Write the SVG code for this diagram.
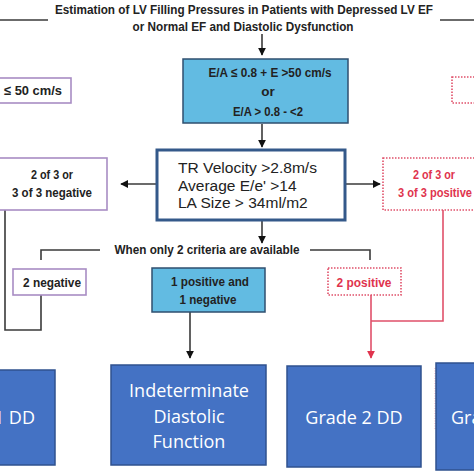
<svg xmlns="http://www.w3.org/2000/svg" width="474" height="474" viewBox="0 0 474 474">
<defs>
<style>
.t{font-family:"Liberation Sans",Arial,sans-serif;font-weight:bold;font-size:13.5px;fill:#222;text-anchor:middle}
.r{fill:#e0344e}
.tr{font-family:"Liberation Sans",Arial,sans-serif;font-size:15.5px;fill:#222}
.big{font-family:"Open Sans","Noto Sans",sans-serif;font-size:18px;fill:#fff;text-anchor:middle}
.ln{stroke:#3a3a3a;stroke-width:1.6;fill:none}
.rl{stroke:#e0506a;stroke-width:1.6;fill:none}
.pb{fill:#fff;stroke:#a88cc4;stroke-width:1.6}
.rb{fill:#fff;stroke:#e0506a;stroke-width:1.6;stroke-dasharray:1.5 1.5}
.lb{fill:#62bbe2;stroke:#2f4f6f;stroke-width:1.5}
.db{fill:#4472c4;stroke:#2f528f;stroke-width:1.5}
</style>
<marker id="ah" viewBox="0 0 10 10" refX="9" refY="5" markerWidth="8" markerHeight="8" markerUnits="userSpaceOnUse" orient="auto"><path d="M0,0L10,5L0,10z" fill="#111"/></marker>
<marker id="ahr" viewBox="0 0 10 10" refX="9" refY="5" markerWidth="8" markerHeight="8" markerUnits="userSpaceOnUse" orient="auto"><path d="M0,0L10,5L0,10z" fill="#e0344e"/></marker>
</defs>
<rect width="474" height="474" fill="#fff"/>
<g id="title">
<text class="t" x="244" y="14" textLength="378" lengthAdjust="spacingAndGlyphs">Estimation of LV Filling Pressures in Patients with Depressed LV EF</text>
<text class="t" x="243" y="31" textLength="221" lengthAdjust="spacingAndGlyphs">or Normal EF and Diastolic Dysfunction</text>
</g>
<g id="connectors">
<line class="ln" x1="0" y1="20" x2="48" y2="20"/>
<line class="ln" x1="440" y1="20" x2="474" y2="20"/>
<line class="ln" x1="262" y1="34" x2="262" y2="55" marker-end="url(#ah)"/>
<line class="ln" x1="262" y1="124" x2="262" y2="147" marker-end="url(#ah)"/>
<line class="ln" x1="157" y1="184" x2="121" y2="184" marker-end="url(#ah)"/>
<line class="ln" x1="345" y1="184" x2="380" y2="184" marker-end="url(#ah)"/>
<line class="ln" x1="262" y1="221" x2="262" y2="243" marker-end="url(#ah)"/>
<polyline class="ln" points="100,250 41,250 41,260"/>
<polyline class="ln" points="310,250 370,250 370,260"/>
<polyline class="ln" points="5,210 5,330 41,330 41,295"/>
<line class="ln" x1="190" y1="312" x2="190" y2="358" marker-end="url(#ah)"/>
<polyline class="rl" points="443,210 443,321 371,321"/>
<line class="rl" x1="371" y1="295" x2="371" y2="358" marker-end="url(#ahr)"/>
<line x1="435" y1="368" x2="435" y2="430" stroke="#e8a0b0" stroke-width="1" stroke-dasharray="1 1.5"/>
</g>
<g id="n-ea">
<rect class="lb" x="183" y="59" width="165" height="64"/>
<text class="t" x="270" y="77" textLength="123" lengthAdjust="spacingAndGlyphs">E/A ≤ 0.8 + E &gt;50 cm/s</text>
<text class="t" x="268" y="96">or</text>
<text class="t" x="268" y="116" textLength="70" lengthAdjust="spacingAndGlyphs">E/A &gt; 0.8 - &lt;2</text>
</g>
<g id="n-e50">
<rect class="pb" x="-5" y="78" width="76" height="25"/>
<text class="t" x="33" y="95" textLength="58" lengthAdjust="spacingAndGlyphs">≤ 50 cm/s</text>
</g>
<g id="n-rtop">
<rect class="rb" x="452" y="77" width="30" height="26"/>
</g>
<g id="n-tr">
<rect x="157" y="150" width="188" height="70" fill="#fff" stroke="#34598a" stroke-width="3"/>
<text class="tr" x="178" y="173" textLength="139" lengthAdjust="spacingAndGlyphs">TR Velocity &gt;2.8m/s</text>
<text class="tr" x="178" y="191">Average E/e' &gt;14</text>
<text class="tr" x="178" y="208">LA Size &gt; 34ml/m2</text>
</g>
<g id="n-neg">
<rect class="pb" x="-5" y="158" width="112" height="52"/>
<text class="t" x="52" y="179" textLength="42" lengthAdjust="spacingAndGlyphs">2 of 3 or</text>
<text class="t" x="52" y="197" textLength="80" lengthAdjust="spacingAndGlyphs">3 of 3 negative</text>
</g>
<g id="n-pos">
<rect class="rb" x="383" y="158" width="100" height="52"/>
<text class="t r" x="434" y="179" textLength="42" lengthAdjust="spacingAndGlyphs">2 of 3 or</text>
<text class="t r" x="435" y="197" textLength="74" lengthAdjust="spacingAndGlyphs">3 of 3 positive</text>
</g>
<g id="n-when">
<text class="t" x="207" y="254" textLength="185" lengthAdjust="spacingAndGlyphs">When only 2 criteria are available</text>
</g>
<g id="n-2neg">
<rect class="pb" x="13" y="269" width="73" height="26"/>
<text class="t" x="52" y="287" textLength="58" lengthAdjust="spacingAndGlyphs">2 negative</text>
</g>
<g id="n-mix">
<rect class="lb" x="152" y="268" width="113" height="44"/>
<text class="t" x="210" y="286" textLength="78" lengthAdjust="spacingAndGlyphs">1 positive and</text>
<text class="t" x="208" y="304" textLength="57" lengthAdjust="spacingAndGlyphs">1 negative</text>
</g>
<g id="n-2pos">
<rect class="rb" x="328" y="268" width="73" height="27"/>
<text class="t r" x="364" y="287" textLength="55" lengthAdjust="spacingAndGlyphs">2 positive</text>
</g>
<g id="n-g1">
<rect class="db" x="-5" y="370" width="60" height="95"/>
<text class="big" x="35" y="424" style="text-anchor:end">Grade 1 DD</text>
</g>
<g id="n-ind">
<rect class="db" x="111" y="365" width="155" height="100"/>
<text class="big" x="189" y="397">Indeterminate</text>
<text class="big" x="189" y="423">Diastolic</text>
<text class="big" x="189" y="448">Function</text>
</g>
<g id="n-g2">
<rect class="db" x="287" y="366" width="134" height="101"/>
<text class="big" x="354" y="424">Grade 2 DD</text>
</g>
<g id="n-g3">
<rect class="db" x="436" y="363" width="45" height="107"/>
<text class="big" x="451" y="424" style="text-anchor:start">Grade 3 DD</text>
</g>
</svg>
